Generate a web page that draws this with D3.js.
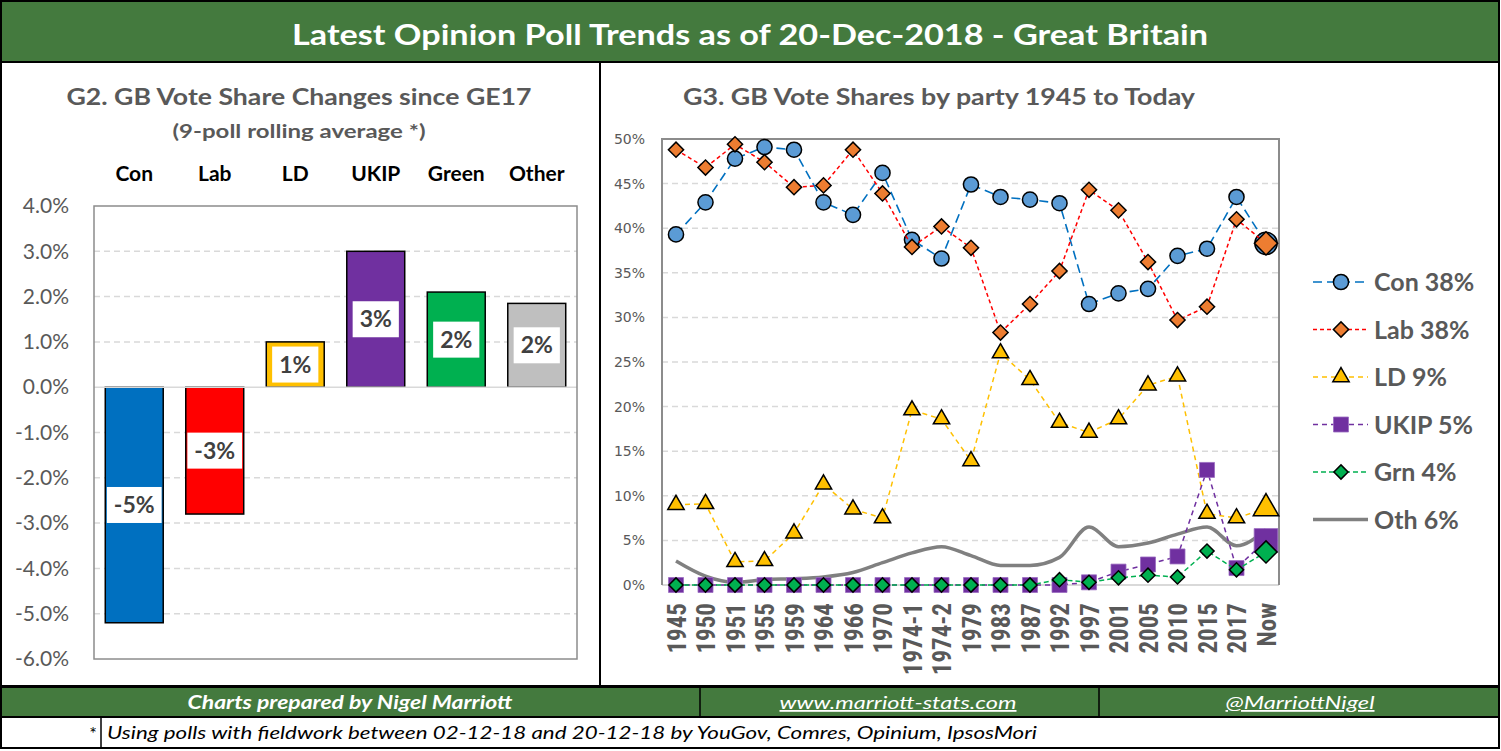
<!DOCTYPE html>
<html>
<head>
<meta charset="utf-8">
<script src="https://cdn.jsdelivr.net/npm/d3@7"></script>
<style>
  body { margin: 0; background: #fff; }
  svg { display: block; }
</style>
</head>
<body>
<div id="chart"></div>
<script>
// ---- G2 data: change in vote share since GE17 ----
const barParties = ["Con", "Lab", "LD", "UKIP", "Green", "Other"];
const barChanges = [-5.2, -2.8, 1.0, 3.0, 2.1, 1.85];
const barLabels = ["-5%", "-3%", "1%", "3%", "2%", "2%"];
const barColours = ["#0070C0", "#FF0000", "#FFC000", "#7030A0", "#00B050", "#BFBFBF"];
const barTicks = [-6, -5, -4, -3, -2, -1, 0, 1, 2, 3, 4];

// ---- G3 data: GB vote shares 1945 to now ----
const elections = ["1945", "1950", "1951", "1955", "1959", "1964", "1966", "1970", "1974-1", "1974-2",
  "1979", "1983", "1987", "1992", "1997", "2001", "2005", "2010", "2015", "2017", "Now"];
const conShare = [39.3, 42.9, 47.8, 49.1, 48.8, 42.9, 41.5, 46.2, 38.7, 36.6, 44.9, 43.5, 43.2, 42.8, 31.5, 32.7, 33.2, 36.9, 37.7, 43.5, 38.3];
const labShare = [48.8, 46.8, 49.4, 47.4, 44.6, 44.8, 48.8, 43.9, 37.9, 40.2, 37.8, 28.3, 31.5, 35.2, 44.3, 42.0, 36.2, 29.7, 31.2, 41.0, 38.3];
const ldShare = [9.0, 9.1, 2.6, 2.7, 5.8, 11.3, 8.5, 7.5, 19.6, 18.6, 13.9, 26.0, 23.0, 18.2, 17.1, 18.6, 22.4, 23.4, 8.0, 7.5, 8.6];
const ukipShare = [0, 0, 0, 0, 0, 0, 0, 0, 0, 0, 0, 0, 0, 0, 0.3, 1.5, 2.3, 3.2, 12.9, 1.9, 5.0];
const grnShare = [0, 0, 0, 0, 0, 0, 0, 0, 0, 0, 0, 0, 0, 0.6, 0.3, 0.8, 1.1, 0.9, 3.8, 1.7, 3.7];
const othShare = [2.7, 1.0, 0.3, 0.6, 0.7, 0.9, 1.4, 2.5, 3.6, 4.3, 3.3, 2.2, 2.2, 3.1, 6.5, 4.3, 4.7, 5.7, 6.5, 4.4, 6.2];
const shareTicks = [0, 5, 10, 15, 20, 25, 30, 35, 40, 45, 50];
const legendLabels = ["Con 38%", "Lab 38%", "LD 9%", "UKIP 5%", "Grn 4%", "Oth 6%"];

const W = 1501, H = 751;
const green = "#447A3E";
const grey = "#595959";
const gridGrey = "#D9D9D9";

const svg = d3.select("#chart").append("svg")
  .attr("width", W)
  .attr("height", H);

// title bar
svg.append("rect").attr("x", 1).attr("y", 1).attr("width", W - 3).attr("height", 61)
  .attr("fill", green).attr("stroke", "#000").attr("stroke-width", 2);
svg.append("text")
  .attr("x", 750).attr("y", 45)
  .attr("text-anchor", "middle")
  .attr("font-family", "Lato, sans-serif").attr("font-weight", "bold").attr("font-size", 29)
  .attr("fill", "#fff")
  .attr("textLength", 916).attr("lengthAdjust", "spacingAndGlyphs")
  .text("Latest Opinion Poll Trends as of 20-Dec-2018 - Great Britain");

// panel frames
svg.append("rect").attr("x", 1).attr("y", 62).attr("width", W - 3).attr("height", 624)
  .attr("fill", "none").attr("stroke", "#000").attr("stroke-width", 2);
svg.append("line").attr("x1", 600).attr("x2", 600).attr("y1", 62).attr("y2", 686)
  .attr("stroke", "#000").attr("stroke-width", 2);

// ================= G2 bar chart =================
const bx = d3.scaleBand().domain(barParties).range([94, 577]).paddingInner(0.28).paddingOuter(0.14);
const by = d3.scaleLinear().domain([-6, 4]).range([659, 206]);

const g2 = svg.append("g");

g2.append("text").attr("x", 299).attr("y", 105).attr("text-anchor", "middle")
  .attr("font-family", "Lato, sans-serif").attr("font-weight", "bold").attr("font-size", 22)
  .attr("fill", grey).attr("textLength", 465).attr("lengthAdjust", "spacingAndGlyphs")
  .text("G2. GB Vote Share Changes since GE17");
g2.append("text").attr("x", 299).attr("y", 138).attr("text-anchor", "middle")
  .attr("font-family", "Lato, sans-serif").attr("font-weight", "bold").attr("font-size", 18)
  .attr("fill", grey).attr("textLength", 253).attr("lengthAdjust", "spacingAndGlyphs")
  .text("(9-poll rolling average *)");

// gridlines
g2.append("g").selectAll("line")
  .data(barTicks.filter(d => d !== 0 && d !== 4 && d !== -6))
  .join("line")
  .attr("x1", 94).attr("x2", 577)
  .attr("y1", d => by(d)).attr("y2", d => by(d))
  .attr("stroke", gridGrey).attr("stroke-width", 1.5).attr("stroke-dasharray", "6,4");

// y axis labels
const g2Axis = g2.append("g").attr("transform", "translate(94,0)")
  .call(d3.axisLeft(by).tickValues(barTicks).tickFormat(d => d.toFixed(1) + "%").tickSize(0).tickPadding(25));
g2Axis.select(".domain").remove();
g2Axis.selectAll("text")
  .attr("font-family", "Lato, sans-serif").attr("font-size", 21).attr("fill", grey);

// category labels
g2.append("g").selectAll("text")
  .data(barParties)
  .join("text")
  .attr("x", d => bx(d) + bx.bandwidth() / 2)
  .attr("y", 181)
  .attr("text-anchor", "middle")
  .attr("font-family", "Lato, sans-serif").attr("font-weight", "bold").attr("font-size", 21)
  .attr("fill", "#000")
  .text(d => d);

// bars
g2.append("g").selectAll("rect")
  .data(barParties)
  .join("rect")
  .attr("x", d => bx(d))
  .attr("width", bx.bandwidth())
  .attr("y", (d, i) => by(Math.max(0, barChanges[i])))
  .attr("height", (d, i) => Math.abs(by(barChanges[i]) - by(0)))
  .attr("fill", (d, i) => barColours[i])
  .attr("stroke", "#000").attr("stroke-width", 1.5);

// zero line
g2.append("line").attr("x1", 94).attr("x2", 577).attr("y1", by(0)).attr("y2", by(0))
  .attr("stroke", gridGrey).attr("stroke-width", 1.5);

// plot border
g2.append("rect").attr("x", 94).attr("y", by(4)).attr("width", 577 - 94).attr("height", by(-6) - by(4))
  .attr("fill", "none").attr("stroke", "#8C8C8C").attr("stroke-width", 1.5);

// data labels
const labelG = g2.append("g").selectAll("g")
  .data(barParties)
  .join("g")
  .attr("transform", (d, i) => `translate(${bx(d) + bx.bandwidth() / 2},${by(barChanges[i] / 2)})`);
labelG.append("rect").attr("fill", "#fff");
labelG.append("text")
  .attr("text-anchor", "middle").attr("dy", "0.35em")
  .attr("font-family", "Lato, sans-serif").attr("font-weight", "bold").attr("font-size", 23)
  .attr("fill", "#404040")
  .text((d, i) => barLabels[i]);
labelG.each(function () {
  const t = d3.select(this).select("text").node().getComputedTextLength();
  d3.select(this).select("rect")
    .attr("x", -t / 2 - 7).attr("y", -18).attr("width", t + 14).attr("height", 36);
});

// ================= G3 line chart =================
const px = d3.scalePoint().domain(elections).range([676, 1266]);
const py = d3.scaleLinear().domain([0, 50]).range([585, 139]);
const plotL = 662, plotR = 1279;

const g3 = svg.append("g");

g3.append("text").attr("x", 939).attr("y", 105).attr("text-anchor", "middle")
  .attr("font-family", "Lato, sans-serif").attr("font-weight", "bold").attr("font-size", 22)
  .attr("fill", grey).attr("textLength", 512).attr("lengthAdjust", "spacingAndGlyphs")
  .text("G3. GB Vote Shares by party 1945 to Today");

g3.append("g").selectAll("line")
  .data(shareTicks.filter(d => d > 0 && d < 50))
  .join("line")
  .attr("x1", plotL).attr("x2", plotR)
  .attr("y1", d => py(d)).attr("y2", d => py(d))
  .attr("stroke", gridGrey).attr("stroke-width", 1.5).attr("stroke-dasharray", "6,4");

g3.append("line").attr("x1", plotL).attr("x2", plotR).attr("y1", py(0)).attr("y2", py(0))
  .attr("stroke", gridGrey).attr("stroke-width", 2);
g3.append("path")
  .attr("d", `M${plotL},${py(0)}V${py(50)}H${plotR}V${py(0)}`)
  .attr("fill", "none").attr("stroke", "#8C8C8C").attr("stroke-width", 2);

const yAxis3 = g3.append("g").attr("transform", `translate(${plotL},0)`)
  .call(d3.axisLeft(py).tickValues(shareTicks).tickFormat(d => d + "%").tickSize(0).tickPadding(17));
yAxis3.select(".domain").remove();
yAxis3.selectAll("text")
  .attr("font-family", "'DejaVu Sans', sans-serif").attr("font-size", 14).attr("fill", grey);

const xAxis3 = g3.append("g").attr("transform", `translate(0,${py(0)})`)
  .call(d3.axisBottom(px).tickSize(0));
xAxis3.select(".domain").remove();
xAxis3.selectAll("text")
  .attr("transform", "rotate(-90)")
  .attr("x", -18).attr("y", 0).attr("dy", "0.36em")
  .attr("text-anchor", "end")
  .attr("font-family", "'Liberation Sans Narrow', 'Roboto Condensed', 'DejaVu Sans Condensed', sans-serif")
  .attr("font-weight", "bold").attr("font-size", 25).attr("fill", grey);

// series definitions
const series = [
  { name: "Oth", values: othShare, line: "#808080", width: 3.5, dash: null, shape: null },
  { name: "Con", values: conShare, line: "#0070C0", width: 1.6, dash: "9,5", shape: d3.symbolCircle, fill: "#5B9BD5", size: 180, nowSize: 390, rot: 0, stroke: "#000" },
  { name: "Lab", values: labShare, line: "#FF0000", width: 1.5, dash: "4,3", shape: d3.symbolSquare, fill: "#ED7D31", size: 115, nowSize: 270, rot: 45, stroke: "#000" },
  { name: "LD", values: ldShare, line: "#FFC000", width: 1.5, dash: "5,4", shape: d3.symbolTriangle, fill: "#FFC000", size: 115, nowSize: 280, rot: 0, stroke: "#000" },
  { name: "UKIP", values: ukipShare, line: "#7030A0", width: 1.5, dash: "5,4", shape: d3.symbolSquare, fill: "#7030A0", size: 225, nowSize: 560, rot: 0, stroke: "#9A6CC0" },
  { name: "Grn", values: grnShare, line: "#00B050", width: 1.5, dash: "5,3", shape: d3.symbolSquare, fill: "#00B050", size: 100, nowSize: 245, rot: 45, stroke: "#000" }
];

series.forEach(s => {
  const pts = elections.map((e, i) => [px(e), py(s.values[i])]);
  const line = d3.line().curve(s.shape ? d3.curveLinear : d3.curveMonotoneX);
  g3.append("path")
    .attr("d", line(pts))
    .attr("fill", "none")
    .attr("stroke", s.line)
    .attr("stroke-width", s.width)
    .attr("stroke-dasharray", s.dash);
  if (s.shape) {
    g3.append("g").selectAll("path")
      .data(elections)
      .join("path")
      .attr("transform", (e, i) => `translate(${px(e)},${py(s.values[i])}) rotate(${s.rot})`)
      .attr("d", e => d3.symbol(s.shape, e === "Now" ? s.nowSize : s.size)())
      .attr("fill", s.fill)
      .attr("stroke", s.stroke)
      .attr("stroke-width", s.name === "UKIP" ? 0.8 : 1.5);
  }
});

// legend
const legendOrder = ["Con", "Lab", "LD", "UKIP", "Grn", "Oth"];
const legend = g3.append("g").selectAll("g")
  .data(legendOrder)
  .join("g")
  .attr("transform", (d, i) => `translate(1313,${282 + i * 47.5})`);
legend.each(function (name, i) {
  const s = series.find(d => d.name === name);
  const g = d3.select(this);
  g.append("line").attr("x1", 0).attr("x2", 55).attr("y1", 0).attr("y2", 0)
    .attr("stroke", s.line).attr("stroke-width", s.shape ? 1.5 : 3.5)
    .attr("stroke-dasharray", s.dash);
  if (s.shape) {
    g.append("path")
      .attr("transform", `translate(28,0) rotate(${s.rot})`)
      .attr("d", d3.symbol(s.shape, s.size)())
      .attr("fill", s.fill).attr("stroke", s.stroke).attr("stroke-width", s.name === "UKIP" ? 0.8 : 1.5);
  }
  g.append("text").attr("x", 61).attr("dy", "0.36em")
    .attr("font-family", "Lato, sans-serif").attr("font-weight", "bold").attr("font-size", 25)
    .attr("fill", grey)
    .text(legendLabels[i]);
});

// ================= footer =================
svg.append("rect").attr("x", 1).attr("y", 687).attr("width", W - 3).attr("height", 30)
  .attr("fill", green).attr("stroke", "#000").attr("stroke-width", 2);
svg.append("rect").attr("x", 1).attr("y", 717).attr("width", W - 3).attr("height", 31)
  .attr("fill", "#fff").attr("stroke", "#000").attr("stroke-width", 2);
[700, 1099].forEach(x => svg.append("line").attr("x1", x).attr("x2", x).attr("y1", 687).attr("y2", 717)
  .attr("stroke", "#000").attr("stroke-width", 1.5));
svg.append("line").attr("x1", 101).attr("x2", 101).attr("y1", 717).attr("y2", 748)
  .attr("stroke", "#000").attr("stroke-width", 1.5);

const footer = [
  { text: "Charts prepared by Nigel Marriott", x: 350, len: 325, bold: true, underline: false },
  { text: "www.marriott-stats.com", x: 898, len: 237, bold: false, underline: true },
  { text: "@MarriottNigel", x: 1300, len: 149, bold: false, underline: true }
];
svg.append("g").selectAll("text")
  .data(footer)
  .join("text")
  .attr("x", d => d.x).attr("y", 709)
  .attr("text-anchor", "middle")
  .attr("font-family", "Lato, sans-serif").attr("font-style", "italic")
  .attr("font-weight", d => d.bold ? "bold" : "normal").attr("font-size", 18)
  .attr("fill", "#fff")
  .attr("text-decoration", d => d.underline ? "underline" : null)
  .attr("textLength", d => d.len).attr("lengthAdjust", "spacingAndGlyphs")
  .text(d => d.text);

svg.append("text").attr("x", 97).attr("y", 740).attr("text-anchor", "end")
  .attr("font-family", "Lato, sans-serif").attr("font-size", 18).attr("fill", "#000")
  .text("*");
svg.append("text").attr("x", 107).attr("y", 739)
  .attr("font-family", "Lato, sans-serif").attr("font-style", "italic").attr("font-size", 18).attr("fill", "#000")
  .attr("textLength", 930).attr("lengthAdjust", "spacingAndGlyphs")
  .text("Using polls with fieldwork between 02-12-18 and 20-12-18 by YouGov, Comres, Opinium, IpsosMori");
</script>
</body>
</html>
